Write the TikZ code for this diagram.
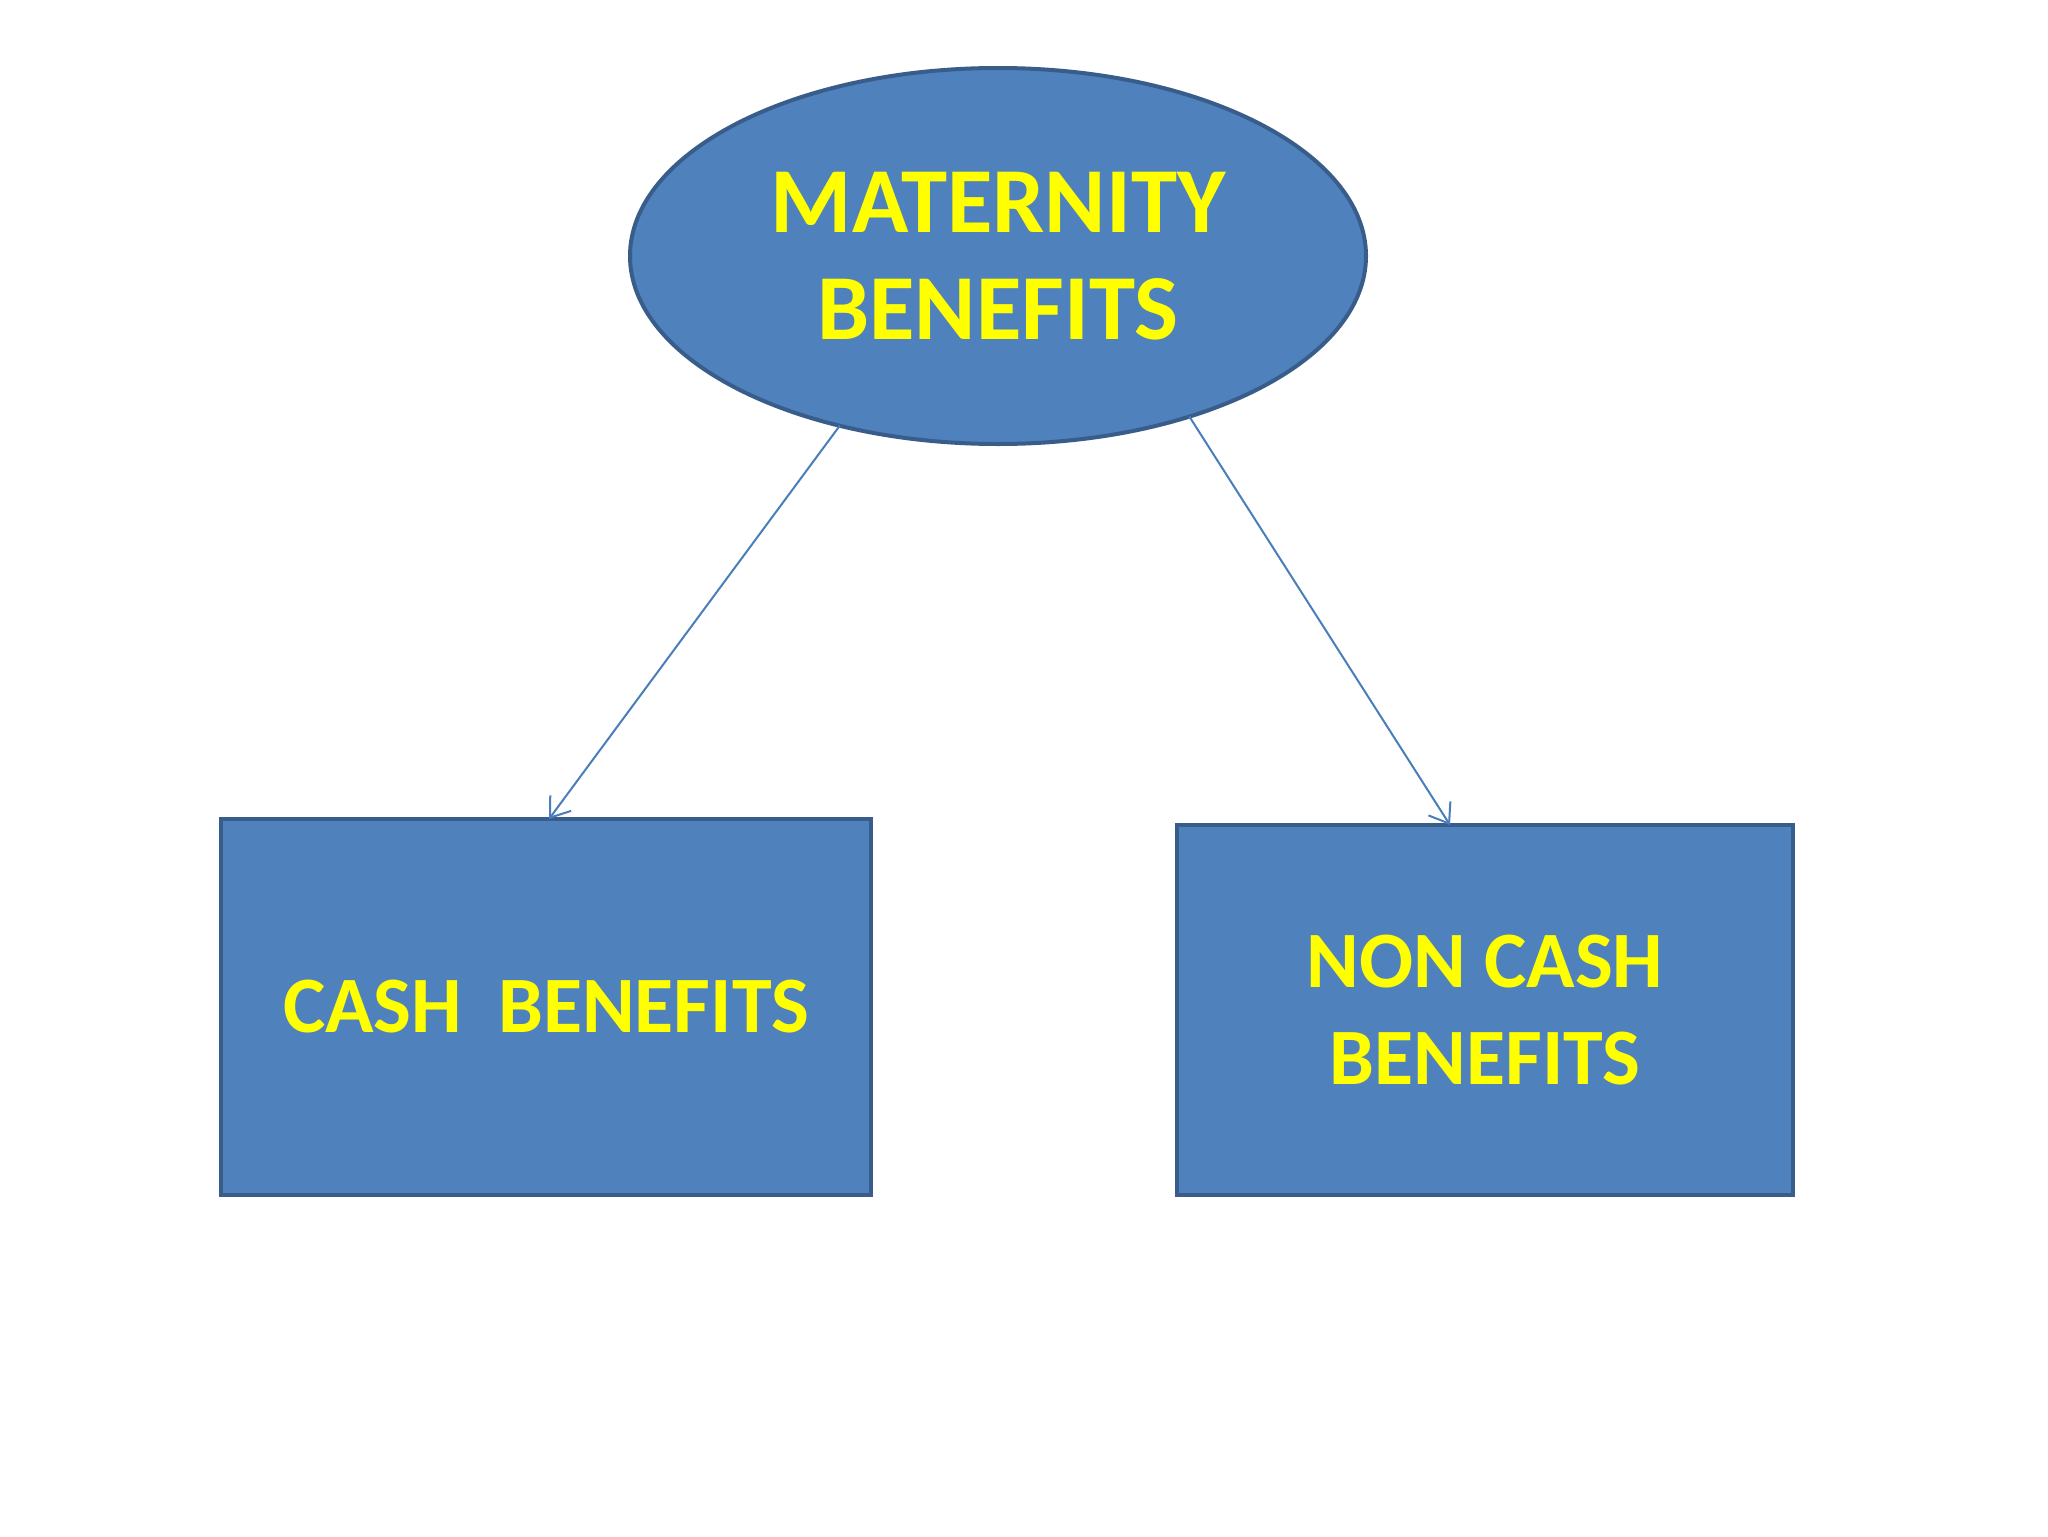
\documentclass[tikz,border=0pt]{standalone}
\usepackage{fontspec}
\setmainfont{Carlito}
\usetikzlibrary{shapes.geometric,arrows.meta}
\definecolor{fillblue}{HTML}{4F81BD}
\definecolor{edgeblue}{HTML}{385D8A}
\definecolor{linkblue}{HTML}{4A7EBB}
\definecolor{txtyellow}{HTML}{FFFF00}
\begin{document}
\begin{tikzpicture}[x=0.5pt,y=-0.5pt,
  shapebase/.style={fill=fillblue,draw=edgeblue,line width=2pt,text=txtyellow,align=center,inner sep=0pt,outer sep=0pt,font=\bfseries},
  topell/.style={shapebase,ellipse,minimum width=368pt,minimum height=188pt,font=\fontsize{46.5}{53.5}\selectfont\bfseries},
  leafbox/.style={shapebase,rectangle,font=\fontsize{40}{48.5}\selectfont\bfseries},
  link/.style={draw=linkblue,line width=1pt,-{Straight Barb[length=9pt,width=13pt,line width=1pt]}}]
\useasboundingbox[fill=white] (0,0) rectangle (2048,1536);
\node[topell] (mat) at (998,256) {MATERNITY\\BENEFITS};
\node[leafbox,minimum width=325pt,minimum height=188pt] (cash) at (546,1007) {CASH\ \ BENEFITS};
\node[leafbox,minimum width=308pt,minimum height=185pt] (noncash) at (1485,1010) {NON CASH\\BENEFITS};
\draw[link] (mat.227.6) -- ([xshift=1.5pt]cash.north);
\draw[link] (mat.320.8) -- ([xshift=-17.5pt]noncash.north);
\end{tikzpicture}
\end{document}
